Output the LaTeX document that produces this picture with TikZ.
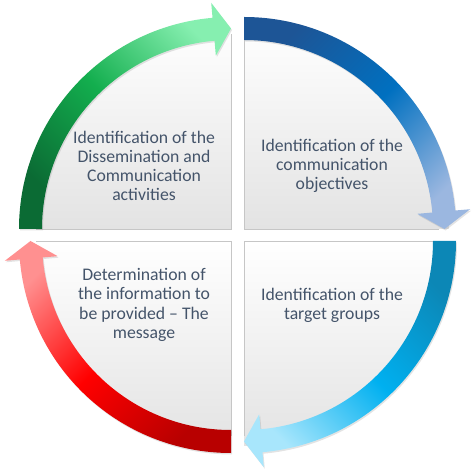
\documentclass[tikz,border=0pt]{standalone}
\usepackage{fontspec}
\setmainfont{Carlito}
\usetikzlibrary{shadows}
\definecolor{txt}{HTML}{44546A}
\definecolor{gd}{HTML}{0B6B34}\definecolor{gm}{HTML}{13AE4E}\definecolor{gl}{HTML}{86EFB0}
\definecolor{bd}{HTML}{1D5596}\definecolor{bm}{HTML}{0070C0}\definecolor{bl}{HTML}{9BB7E0}
\definecolor{cd}{HTML}{0C87B6}\definecolor{cm}{HTML}{00B0F0}\definecolor{cl}{HTML}{A8E6FC}
\definecolor{rd}{HTML}{B80000}\definecolor{rm}{HTML}{FF0000}\definecolor{rl}{HTML}{FF9090}
\begin{document}
\begin{tikzpicture}[x=1pt,y=1pt,
  quad/.style={top color=white,bottom color=gray!22,draw=none},
  edge/.style={draw=gray!45,line width=0.6pt},
  lbl/.style={text=txt,align=center,font=\fontsize{17.7}{19.2}\selectfont},
  arr/.style={drop shadow={shadow xshift=1pt,shadow yshift=-1.5pt,opacity=0.22}}
]
\useasboundingbox (0,0) rectangle (474,473);
\coordinate (ctl) at (231,244);
\coordinate (ctr) at (244,244);
\coordinate (cbl) at (231,232);
\coordinate (cbr) at (244,232);
% quadrants
\path[quad] (ctl) -- ++(180:205) arc[start angle=180,end angle=90,radius=205] -- cycle;
\path[quad] (ctr) -- ++(90:205) arc[start angle=90,end angle=0,radius=205] -- cycle;
\path[quad] (cbr) -- ++(0:205) arc[start angle=0,end angle=-90,radius=205] -- cycle;
\path[quad] (cbl) -- ++(270:205) arc[start angle=270,end angle=180,radius=205] -- cycle;
\draw[edge] ([xshift=-195pt]ctl) -- (ctl) -- ([yshift=195pt]ctl);
\draw[edge] ([xshift=195pt]ctr) -- (ctr) -- ([yshift=195pt]ctr);
\draw[edge] ([xshift=195pt]cbr) -- (cbr) -- ([yshift=-195pt]cbr);
\draw[edge] ([xshift=-195pt]cbl) -- (cbl) -- ([yshift=-195pt]cbl);
% arrows
\begin{scope}[shift={(ctl)}]
\path[arr,top color=gl,bottom color=gd,middle color=gm,shading angle=-45]
  (180:212) arc[start angle=180,end angle=95,radius=212] -- (95:227) -- (90:200.5)
  -- (95:174) -- (95:189) arc[start angle=95,end angle=180,radius=189] -- cycle;
\end{scope}
\begin{scope}[shift={(ctr)}]
\path[arr,top color=bd,bottom color=bl,middle color=bm,shading angle=45]
  (90:212) arc[start angle=90,end angle=5,radius=212] -- (5:227) -- (0:200.5)
  -- (5:174) -- (5:189) arc[start angle=5,end angle=90,radius=189] -- cycle;
\end{scope}
\begin{scope}[shift={(cbr)}]
\path[arr,top color=cd,bottom color=cl,middle color=cm,shading angle=-45]
  (0:212) arc[start angle=0,end angle=-85,radius=212] -- (-85:227) -- (-90:200.5)
  -- (-85:174) -- (-85:189) arc[start angle=-85,end angle=0,radius=189] -- cycle;
\end{scope}
\begin{scope}[shift={(cbl)}]
\path[arr,top color=rl,bottom color=rd,middle color=rm,shading angle=45]
  (270:212) arc[start angle=270,end angle=185,radius=212] -- (185:227) -- (180:200.5)
  -- (185:174) -- (185:189) arc[start angle=185,end angle=270,radius=189] -- cycle;
\end{scope}
% labels
\node[lbl] (tl) at (144,307) {Identification of the\\Dissemination and\\Communication\\activities};
\node[lbl] (tr) at (332,307) {Identification of the\\communication\\objectives};
\node[lbl] (bl) at (144,168) {Determination of\\the information to\\be provided – The\\message};
\node[lbl] (br) at (332,168) {Identification of the\\target groups};
\end{tikzpicture}
\end{document}
